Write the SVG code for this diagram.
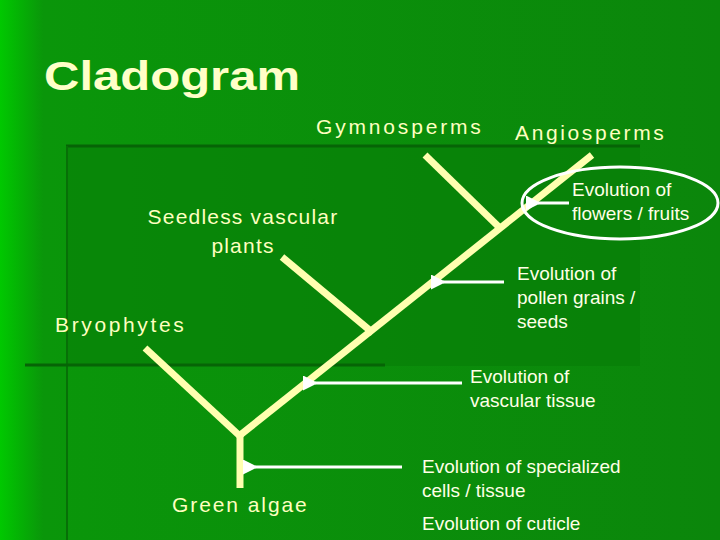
<svg xmlns="http://www.w3.org/2000/svg" width="720" height="540" viewBox="0 0 720 540">
<defs>
<linearGradient id="bg" x1="0" y1="0" x2="1" y2="0">
<stop offset="0" stop-color="#00c800"/><stop offset="0.06" stop-color="#0a960a"/><stop offset="1" stop-color="#0b860b"/>
</linearGradient>
<marker id="ah" viewBox="0 0 10 10" refX="2" refY="5" markerWidth="5" markerHeight="5" orient="auto-start-reverse"><path d="M10,0 L0,5 L10,10 z" fill="#fff"/></marker>
</defs>
<style>
.lbl{font-family:"Liberation Sans",Arial,sans-serif;fill:#ffffc0;font-size:21px;letter-spacing:1.2px}
.ev{font-family:"Liberation Sans",Arial,sans-serif;fill:#ffffe6;font-size:19px}
.br{stroke:#ffffb0;stroke-width:7;fill:none;stroke-linecap:butt}
.ar{stroke:#fff;stroke-width:3;marker-start:url(#ah)}
</style>
<rect width="720" height="540" fill="url(#bg)"/>
<rect x="66" y="146" width="574" height="220" fill="#067a06" opacity="0.5"/>
<line x1="66" y1="146" x2="640" y2="146" stroke="#066406" stroke-width="3"/>
<line x1="67" y1="146" x2="67" y2="540" stroke="#077007" stroke-width="2"/>
<line x1="25" y1="365" x2="385" y2="365" stroke="#066406" stroke-width="3"/>
<text x="44" y="90" font-family="Liberation Sans,Arial,sans-serif" font-weight="bold" font-size="40" fill="#ffffc8" textLength="256" lengthAdjust="spacingAndGlyphs">Cladogram</text>
<g id="tree">
<line class="br" x1="239" y1="436" x2="592" y2="155"/>
<line class="br" x1="145" y1="348" x2="242" y2="438"/>
<line class="br" x1="240" y1="434" x2="240" y2="488"/>
<line class="br" x1="282" y1="257" x2="373" y2="333"/>
<line class="br" x1="425" y1="155" x2="502" y2="230"/>
</g>
<g id="connectors">
<line class="ar" x1="538" y1="203" x2="569" y2="203"/>
<line class="ar" x1="443" y1="282" x2="504" y2="282"/>
<line class="ar" x1="315" y1="383" x2="462" y2="383"/>
<line class="ar" x1="255" y1="467" x2="402" y2="467"/>
</g>
<ellipse id="highlight" cx="620" cy="203" rx="98" ry="36" fill="none" stroke="#fff" stroke-width="3"/>
<g id="labels">
<text class="lbl" x="316" y="134" textLength="166">Gymnosperms</text>
<text class="lbl" x="515" y="140" textLength="150">Angiosperms</text>
<text class="lbl" x="243" y="224" text-anchor="middle">Seedless vascular</text>
<text class="lbl" x="243" y="253" text-anchor="middle">plants</text>
<text class="lbl" x="55" y="332" textLength="130">Bryophytes</text>
<text class="lbl" x="172" y="512" textLength="136">Green algae</text>
<text class="ev" x="572" y="196">Evolution of</text>
<text class="ev" x="572" y="220">flowers / fruits</text>
<text class="ev" x="517" y="280">Evolution of</text>
<text class="ev" x="517" y="304">pollen grains /</text>
<text class="ev" x="517" y="328">seeds</text>
<text class="ev" x="470" y="383">Evolution of</text>
<text class="ev" x="470" y="407">vascular tissue</text>
<text class="ev" x="422" y="473">Evolution of specialized</text>
<text class="ev" x="422" y="497">cells / tissue</text>
<text class="ev" x="422" y="530" font-size="16">Evolution of cuticle</text>
</g>
</svg>
